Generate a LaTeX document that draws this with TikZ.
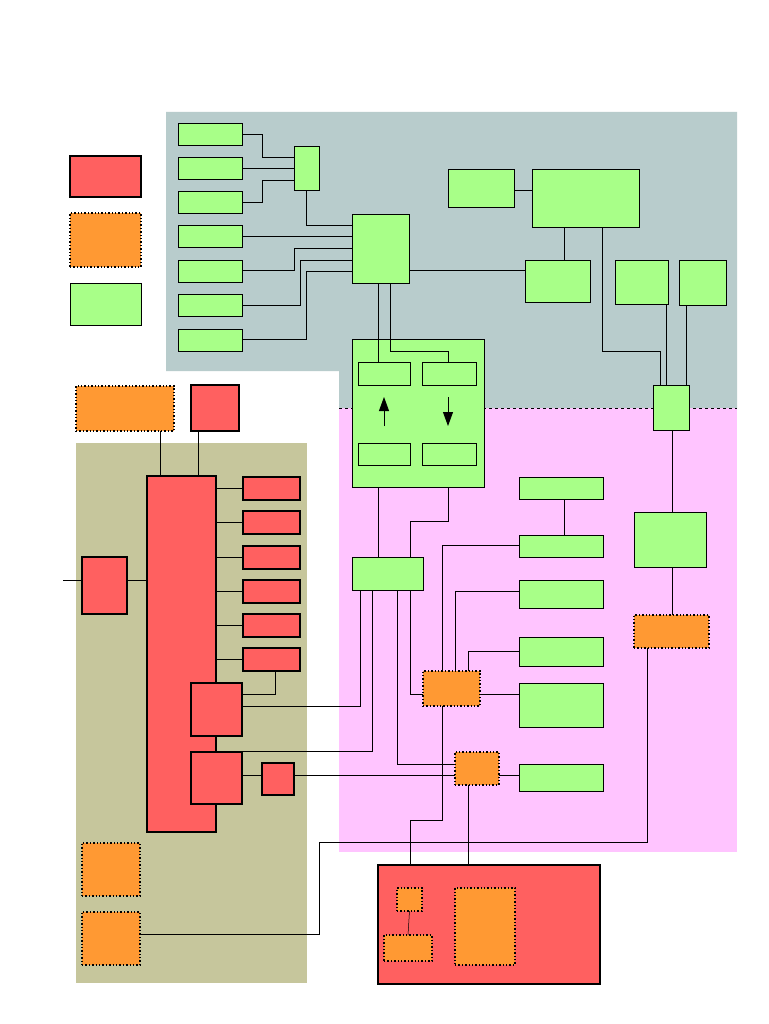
\documentclass[tikz,border=0pt]{standalone}
\usetikzlibrary{arrows.meta}
\definecolor{cgrey}{HTML}{B8CCCC}
\definecolor{cpink}{HTML}{FFC4FF}
\definecolor{colive}{HTML}{C6C69C}
\definecolor{cred}{HTML}{FF6060}
\definecolor{corange}{HTML}{FF9933}
\definecolor{cgreen}{HTML}{A8FF88}
\tikzset{
 rbox/.style={fill=cred,draw=black,line width=1.6pt},
 obox/.style={fill=corange,draw=black,line width=1.4pt,dotted},
 gbox/.style={fill=cgreen,draw=black,line width=0.5pt},
 wire/.style={draw=black,line width=0.5pt},
 bigarrow/.style={line width=0.8pt,-{Triangle[length=14pt,width=10pt]}},
}
\newcommand{\B}[6]{%
 \pgfmathsetmacro{\bw}{#5-#3}\pgfmathsetmacro{\bh}{#6-#4}%
 \pgfmathsetmacro{\bx}{(#3+#5)/2}\pgfmathsetmacro{\by}{(#4+#6)/2}%
 \node[#1,inner sep=0,outer sep=0,minimum width=\bw pt,minimum height=\bh pt] (#2) at (\bx,\by) {};}
\begin{document}
\begin{tikzpicture}[x=1pt,y=-1pt]
\useasboundingbox (0,0) rectangle (768,1024);
\fill[white] (0,0) rectangle (768,1024);
% regions
\fill[cgrey] (166,112) -- (737,112) -- (737,408) -- (339,408) -- (339,371) -- (166,371) -- cycle;
\fill[cpink] (339,408) rectangle (737,852);
\draw[dashed,line width=0.5pt] (339,408) -- (737,408);
\fill[colive] (76,443) rectangle (307,983);
% legend
\B{rbox}{lr}{70}{156}{141}{197}
\B{obox}{lo}{70}{213}{141}{267}
\B{gbox}{lg}{70}{283}{141}{325}
% wires (behind boxes)
\begin{scope}[wire]
\draw (242,134) -| (262,157) -- (294,157);
\draw (242,168) -- (294,168);
\draw (242,202) -| (262,180) -- (294,180);
\draw (306,190) |- (352,225);
\draw (242,236) -- (352,236);
\draw (242,270) -| (294,248) -- (352,248);
\draw (242,305) -| (300,260) -- (352,260);
\draw (242,339) -| (306,271) -- (352,271);
\draw (409,270) -- (525,270);
\draw (514,190) -- (532,190);
\draw (564,227) -- (564,260);
\draw (602,227) |- (660,351) -- (660,385);
\draw (666,304) -- (666,385);
\draw (686,305) -- (686,385);
\draw (378,465) -- (378,557);
\draw (448,465) |- (410,521) -- (410,557);
\draw (672,430) -- (672,512);
\draw (672,567) -- (672,615);
\draw (564,499) -- (564,535);
\draw (519,545) -| (442,671);
\draw (519,591) -| (455,671);
\draw (519,651) -| (468,671);
\draw (480,694) -- (519,694);
\draw (499,775) -- (519,775);
\draw (372,590) |- (242,751);
\draw (360,590) |- (242,706);
\draw (397,590) |- (455,764);
\draw (410,590) |- (423,694);
\draw (294,775) -- (455,775);
\draw (242,775) -- (262,775);
\draw (442,706) |- (410,820) -- (410,888);
\draw (468,785) -- (468,888);
\draw (647,648) |- (319,842) |- (140,934);
\draw (410,911) -- (410,935);
\foreach \y in {488,522,557,591,625,659} \draw (216,\y) -- (243,\y);
\draw (275,671) |- (242,694);
\draw (160,431) -- (160,476);
\draw (198,431) -- (198,476);
\draw (63,580) -- (82,580);
\draw (127,580) -- (147,580);
\end{scope}
% grey area greens
\B{gbox}{g1}{178}{123}{242}{145}
\B{gbox}{g2}{178}{157}{242}{179}
\B{gbox}{g3}{178}{191}{242}{213}
\B{gbox}{g4}{178}{225}{242}{247}
\B{gbox}{g5}{178}{260}{242}{282}
\B{gbox}{g6}{178}{294}{242}{316}
\B{gbox}{g7}{178}{329}{242}{351}
\B{gbox}{mux}{294}{146}{319}{190}
\B{gbox}{hub}{352}{214}{409}{283}
\B{gbox}{ga}{448}{169}{514}{207}
\B{gbox}{gb}{532}{169}{639}{227}
\B{gbox}{gc}{525}{260}{590}{302}
\B{gbox}{gd}{615}{260}{668}{304}
\B{gbox}{ge}{679}{260}{726}{305}
\B{gbox}{cont}{352}{339}{484}{487}
\draw[wire] (378,283) -- (378,362);
\draw[wire] (390,283) |- (448,351) -- (448,362);
\B{gbox}{c1}{358}{362}{410}{385}
\B{gbox}{c2}{422}{362}{476}{385}
\B{gbox}{c3}{358}{443}{410}{465}
\B{gbox}{c4}{422}{443}{476}{465}
\coordinate (u0) at (384,426);
\coordinate (u1) at (384,397);
\coordinate (d0) at (448,397);
\coordinate (d1) at (448,426);
\draw[bigarrow] (u0) -- (u1);
\draw[bigarrow] (d0) -- (d1);
\B{gbox}{gf}{653}{385}{689}{430}
% pink greens
\B{gbox}{gg}{352}{557}{423}{590}
\B{gbox}{p1}{519}{477}{603}{499}
\B{gbox}{p2}{519}{535}{603}{557}
\B{gbox}{p3}{519}{580}{603}{608}
\B{gbox}{p4}{519}{637}{603}{666}
\B{gbox}{p5}{519}{683}{603}{727}
\B{gbox}{p6}{519}{764}{603}{791}
\B{gbox}{p7}{634}{512}{706}{567}
\B{obox}{o1}{634}{615}{709}{648}
\B{obox}{o2}{423}{671}{480}{706}
\B{obox}{o3}{455}{752}{499}{785}
% left part
\B{obox}{o4}{76}{386}{174}{431}
\B{rbox}{r1}{191}{385}{239}{431}
\B{rbox}{big}{147}{476}{216}{832}
\foreach \i/\y in {1/477,2/511,3/546,4/580,5/614,6/648}{\B{rbox}{s\i}{243}{\y}{300}{\y+23}}
\B{rbox}{r2}{191}{683}{242}{736}
\B{rbox}{r3}{191}{752}{242}{804}
\B{rbox}{r4}{262}{763}{294}{795}
\B{rbox}{r5}{82}{557}{127}{614}
\B{obox}{o5}{82}{843}{140}{896}
\B{obox}{o6}{82}{912}{140}{965}
% bottom
\B{rbox}{bot}{378}{865}{600}{984}
\B{obox}{o7}{397}{888}{422}{911}
\B{obox}{o8}{384}{935}{432}{961}
\B{obox}{o9}{455}{888}{515}{965}
\draw[wire] (o7.south) -- (o8.north);
\end{tikzpicture}
\end{document}
